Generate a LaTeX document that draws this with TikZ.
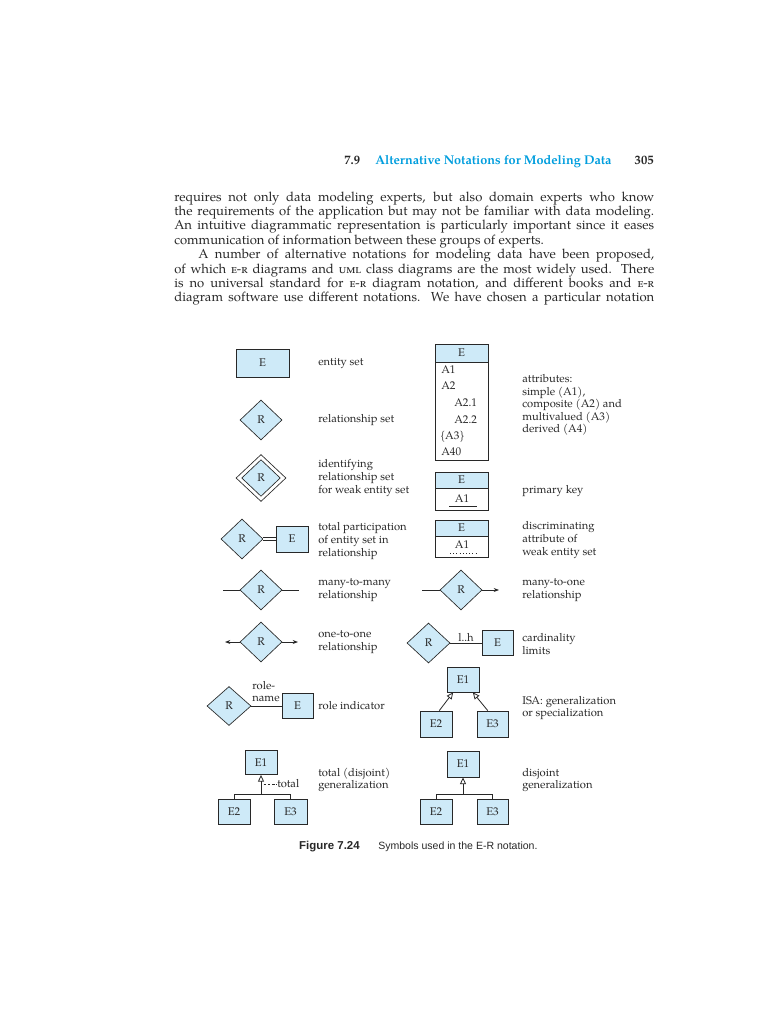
\documentclass[tikz,border=0pt]{standalone}
\usepackage{fontspec}
\setmainfont{TeX Gyre Pagella}
\newfontfamily\capfont{Liberation Sans}
\usetikzlibrary{shapes.geometric,arrows.meta,calc}
\definecolor{erblue}{RGB}{206,234,248}
\definecolor{hdcyan}{RGB}{0,158,222}
\definecolor{ink}{RGB}{40,40,40}
\begin{document}
\begin{tikzpicture}[x=0.75pt,y=-0.75pt,
 every node/.style={font=\fontsize{8.4}{9.4}\selectfont, text=ink},
 ent/.style={draw=ink, fill=erblue, line width=0.6pt, inner sep=0, minimum width=24pt, minimum height=18.75pt},
 rel/.style={diamond, draw=ink, fill=erblue, line width=0.5pt, inner sep=0, minimum width=31.5pt, minimum height=30pt},
 lbl/.style={anchor=west, align=left, inner sep=0},
 ln/.style={draw=ink, line width=0.6pt},
 isa/.style={-{Triangle[open,length=5pt,width=4.5pt]}},
 sarr/.style={-{Stealth[length=4pt,width=3pt]}},
 body/.style={anchor=base west, inner sep=0, font=\fontsize{9.8}{10.8}\selectfont},
 head/.style={anchor=base west, inner sep=0, font=\fontsize{9.5}{11}\selectfont\bfseries},
]
\useasboundingbox (0,0) rectangle (768,1024);
\fill[white] (0,0) rectangle (768,1024);

% header
\node[head] (h1) at (344,164) {7.9};
\node[head, text=hdcyan] (h2) at (375,164) {Alternative Notations for Modeling Data};
\node[head, anchor=base east] (h3) at (654,164) {305};

% body text
\node[body] (b1) at (174,201) {\makebox[360pt][s]{requires not only data modeling experts, but also domain experts who know}};
\node[body] (b2) at (174,215.4) {\makebox[360pt][s]{the requirements of the application but may not be familiar with data modeling.}};
\node[body] (b3) at (174,229.8) {\makebox[360pt][s]{An intuitive diagrammatic representation is particularly important since it eases}};
\node[body] (b4) at (174,244.2) {communication of information between these groups of experts.};
\node[body] (b5) at (174,258.6) {\makebox[360pt][s]{\hspace*{18pt}A number of alternative notations for modeling data have been proposed,}};
\node[body] (b6) at (174,273) {\makebox[360pt][s]{of which \textsc{e-r} diagrams and \textsc{uml} class diagrams are the most widely used. There}};
\node[body] (b7) at (174,287.4) {\makebox[360pt][s]{is no universal standard for \textsc{e-r} diagram notation, and different books and \textsc{e-r}}};
\node[body] (b8) at (174,301.8) {\makebox[360pt][s]{diagram software use different notations. We have chosen a particular notation}};

% ---------- left column ----------
% entity set
\node[ent, minimum width=39.75pt, minimum height=21pt] (e0) at (262.5,363) {E};
\node[lbl] (t0) at (318,363) {entity set};

% relationship set
\node[rel] (r0) at (261,420) {R};
\node[lbl] (t1) at (318,420) {relationship set};

% identifying relationship set
\node[diamond, draw=ink, fill=white, line width=0.5pt, inner sep=0, minimum width=37.5pt, minimum height=35.25pt] (rw) at (261,478) {};
\node[rel, minimum width=29pt, minimum height=27.5pt] (rwi) at (261,478) {R};
\node[lbl] (t2) at (318,478) {identifying\\relationship set\\for weak entity set};

% total participation
\node[rel] (rtp) at (242,539) {R};
\node[ent, minimum width=24pt, minimum height=19.5pt] (etp) at (292,539) {E};
\draw[ln, double distance=1.6pt, line width=0.5pt] (rtp.east) -- (etp.west);
\node[lbl] (t3) at (318,541) {total participation\\of entity set in\\relationship};

% many-to-many
\node[rel] (rmm) at (261,590) {R};
\coordinate (mm1) at (223,590);
\coordinate (mm2) at (299,590);
\draw[ln] (mm1) -- (rmm.west);
\draw[ln] (rmm.east) -- (mm2);
\node[lbl] (t4) at (318,590) {many-to-many\\relationship};

% one-to-one
\node[rel] (roo) at (261,642) {R};
\coordinate (oo1) at (225,642);
\coordinate (oo2) at (298,642);
\draw[ln, sarr] (roo.west) -- (oo1);
\draw[ln, sarr] (roo.east) -- (oo2);
\node[lbl] (t5) at (318,642) {one-to-one\\relationship};

% role indicator
\node[rel, minimum width=33pt, minimum height=29.25pt] (rr) at (229,706) {R};
\node[ent, minimum width=23.25pt, minimum height=18.75pt] (er) at (297.5,706) {E};
\draw[ln] (rr.east) -- (er.west);
\node[lbl] (rn) at (252,691.5) {role-\\name};
\node[lbl] (t6) at (318,706) {role indicator};

% total (disjoint) generalization
\node[ent, minimum width=24pt, minimum height=18pt] (tg1) at (261,762.5) {E1};
\node[ent, minimum width=24pt, minimum height=18.75pt] (tg2) at (234,811.5) {E2};
\node[ent, minimum width=24.75pt, minimum height=18.75pt] (tg3) at (290.5,811.5) {E3};
\coordinate (tgj) at (261,794);
\draw[ln] (tg2.north) -- (tg2.north |- tgj) -- (tg3.north |- tgj) -- (tg3.north);
\draw[ln, isa] (tgj) -- (tg1.south);
\coordinate (tgd) at (263.5,784);
\node[anchor=west, inner sep=0] (tot) at (277,784) {total};
\draw[ln, dashed, dash pattern=on 2pt off 1.2pt, line width=0.5pt] (tgd) -- (tot.west);
\node[lbl] (t7) at (318,780) {total (disjoint)\\generalization};

% ---------- right column ----------
% attributes
\node[ent, minimum width=39.75pt, minimum height=13.5pt] (ah) at (461.5,353) {E};
\node[draw=ink, line width=0.6pt, fill=white, minimum width=39.75pt, minimum height=73.5pt, inner sep=0, anchor=north] (ab) at (ah.south) {};
\node[lbl] (a1) at (441,370) {A1};
\node[lbl] (a2) at (441,386) {A2};
\node[lbl] (a21) at (454,403) {A2.1};
\node[lbl] (a22) at (454,420) {A2.2};
\node[lbl] (a3) at (440,437) {\{A3\}};
\node[lbl] (a4) at (441,452) {A40};
\node[lbl] (t8) at (522,405) {attributes:\\simple (A1),\\composite (A2) and\\multivalued (A3)\\derived (A4)};

% primary key
\node[ent, minimum width=39.75pt, minimum height=12pt] (ph) at (461.5,480) {E};
\node[draw=ink, line width=0.6pt, fill=white, minimum width=39.75pt, minimum height=16.5pt, inner sep=0, anchor=north] (pb) at (ph.south) {};
\node[inner sep=0] (pa) at (462,499) {A1};
\draw[ln, line width=0.5pt] (449,506) -- (477,506);
\node[lbl] (t9) at (522,491) {primary key};

% discriminating attribute
\node[ent, minimum width=39.75pt, minimum height=12pt] (dh) at (461.5,528) {E};
\node[draw=ink, line width=0.6pt, fill=white, minimum width=39.75pt, minimum height=15.75pt, inner sep=0, anchor=north] (db) at (dh.south) {};
\node[inner sep=0] (da) at (462,545) {A1};
\draw[ink, line width=0.7pt, dash pattern=on 0.6pt off 1.8pt] (450,553) -- (476,553);
\node[lbl] (t10) at (522,540) {discriminating\\attribute of\\weak entity set};

% many-to-one
\node[rel] (rmo) at (461,590) {R};
\coordinate (mo1) at (422,590);
\coordinate (mo2) at (499,590);
\draw[ln] (mo1) -- (rmo.west);
\draw[ln, sarr] (rmo.east) -- (mo2);
\node[lbl] (t11) at (522,590) {many-to-one\\relationship};

% cardinality limits
\node[rel, minimum width=32.25pt, minimum height=30pt] (rc) at (428.5,643) {R};
\node[ent, minimum width=23.25pt, minimum height=18.75pt] (ec) at (497.5,642.5) {E};
\draw[ln] (rc.east) -- node[above=0.5pt, inner sep=0] (lh) {l..h} (rc.east -| ec.west);
\node[lbl] (t12) at (522,644) {cardinality\\limits};

% ISA
\node[ent, minimum width=24pt, minimum height=18.75pt] (i1) at (463,679.5) {E1};
\node[ent, minimum width=24pt, minimum height=19.5pt] (i2) at (436,724) {E2};
\node[ent, minimum width=23.25pt, minimum height=19.5pt] (i3) at (492.5,724) {E3};
\draw[ln, isa] ($(i2.north west)!0.6!(i2.north east)$) -- ($(i1.south west)!0.2!(i1.south east)$);
\draw[ln, isa] ($(i3.north west)!0.35!(i3.north east)$) -- ($(i1.south west)!0.8!(i1.south east)$);
\node[lbl] (t13) at (522,708) {ISA: generalization\\or specialization};

% disjoint generalization
\node[ent, minimum width=24pt, minimum height=19.5pt] (dj1) at (463,764) {E1};
\node[ent, minimum width=24pt, minimum height=18.75pt] (dj2) at (436,811.5) {E2};
\node[ent, minimum width=23.25pt, minimum height=18.75pt] (dj3) at (492.5,811.5) {E3};
\coordinate (djj) at (463,794);
\draw[ln] (dj2.north) -- (dj2.north |- djj) -- (dj3.north |- djj) -- (dj3.north);
\draw[ln, isa] (djj) -- (dj1.south);
\node[lbl] (t14) at (522,780) {disjoint\\generalization};

% caption
\node[anchor=base east, inner sep=0, font=\capfont\fontsize{8.6}{9}\selectfont\bfseries] (c1) at (360,849) {Figure 7.24};
\node[anchor=base west, inner sep=0, font=\capfont\fontsize{7.9}{9}\selectfont] (c2) at (378,849) {Symbols used in the E-R notation.};
\end{tikzpicture}
\end{document}
